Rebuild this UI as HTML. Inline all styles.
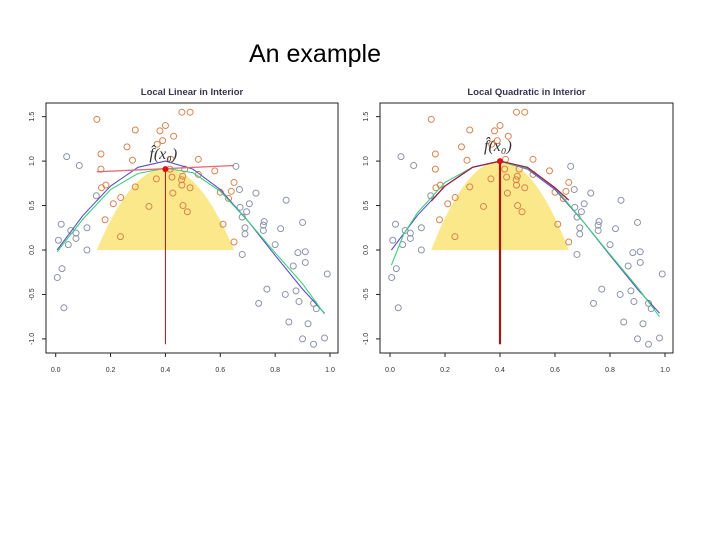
<!DOCTYPE html>
<html><head><meta charset="utf-8">
<style>
body{margin:0;background:#fff;width:720px;height:540px;overflow:hidden;font-family:"Liberation Sans",sans-serif}
#title{position:absolute;left:0;top:40px;width:630px;text-align:center;font-size:25px;color:#000}
svg{position:absolute;left:0;top:0}
</style></head>
<body>
<div id="title">An example</div>
<svg id="chart" width="720" height="540"></svg>
<script>
const orangeX=[0.15,0.46,0.49,0.29,0.38,0.40,0.43,0.37,0.39,0.26,0.165,0.28,0.52,0.42,0.165,0.417,0.47,0.58,0.367,0.424,0.463,0.459,0.46,0.52,0.49,0.29,0.167,0.183,0.65,0.64,0.60,0.237,0.427,0.21,0.34,0.464,0.48,0.18,0.61,0.236,0.65,0.63];
const orangeY=[1.47,1.55,1.55,1.35,1.34,1.40,1.28,1.19,1.23,1.16,1.08,1.01,1.02,1.02,0.91,0.91,0.91,0.89,0.80,0.82,0.83,0.79,0.73,0.85,0.70,0.71,0.70,0.73,0.76,0.66,0.65,0.59,0.64,0.52,0.49,0.50,0.43,0.34,0.29,0.15,0.09,0.58];
const grayX=[0.04,0.086,0.01,0.02,0.055,0.046,0.074,0.074,0.114,0.114,0.023,0.006,0.03,0.148,0.657,0.67,0.672,0.696,0.706,0.68,0.69,0.69,0.73,0.757,0.76,0.757,0.82,0.80,0.84,0.90,0.883,0.91,0.91,0.866,0.99,0.77,0.74,0.837,0.876,0.887,0.94,0.95,0.85,0.92,0.90,0.94,0.98,0.68];
const grayY=[1.05,0.95,0.11,0.29,0.22,0.06,0.19,0.13,0.25,0.0,-0.21,-0.31,-0.65,0.61,0.94,0.68,0.48,0.43,0.52,0.37,0.25,0.18,0.64,0.28,0.32,0.22,0.24,0.06,0.56,0.31,-0.03,-0.02,-0.14,-0.18,-0.27,-0.44,-0.60,-0.50,-0.46,-0.58,-0.60,-0.66,-0.81,-0.83,-1.0,-1.06,-0.99,-0.05];
const curveX=[0.005,0.1,0.2,0.3,0.4,0.5,0.6,0.7,0.8,0.9,0.98];
const blueY=[0.0,0.39,0.72,0.93,1.0,0.91,0.68,0.33,-0.06,-0.44,-0.71];
const greenLeftY=[-0.02,0.35,0.68,0.86,0.92,0.87,0.66,0.33,-0.03,-0.38,-0.72];
const greenRightX=[0.005,0.05,0.1,0.2,0.3,0.4,0.5,0.6,0.7,0.8,0.9,0.98];
const greenRightY=[-0.17,0.18,0.42,0.76,0.93,0.995,0.92,0.7,0.33,-0.05,-0.42,-0.75];
const linFitX=[0.15,0.65];
const linFitY=[0.88,0.95];
const quadFitX=[0.15,0.2,0.3,0.4,0.5,0.6,0.65];
const quadFitY=[0.55,0.72,0.93,1.0,0.93,0.7,0.56];
const xTicks=[0,0.2,0.4,0.6,0.8,1.0];
const xTickLabels=["0.0","0.2","0.4","0.6","0.8","1.0"];
const yTicks=[-1.0,-0.5,0.0,0.5,1.0,1.5];
const yTickLabels=["-1.0","-0.5","0.0","0.5","1.0","1.5"];
const x0=0.4, kernelHalf=0.25;
const fitLeft=0.91, fitRight=1.0, kernelPeakLeft=0.92, kernelPeakRight=1.0;

const NS="http://www.w3.org/2000/svg";
const svg=document.getElementById('chart');
function el(tag,attrs,parent){const e=document.createElementNS(NS,tag);for(const k in attrs)e.setAttribute(k,attrs[k]);(parent||svg).appendChild(e);return e;}

function panel(p){
  const g=el('g',{});
  
  
  const sx=v=>p.x0+p.xs*v, sy=v=>250-88.9*v;
  const t=el('text',{x:(p.bx1+p.bx2)/2,y:95,'text-anchor':'middle','font-size':'9.5','font-weight':'bold',fill:'#3a3350'},g);
  t.textContent=p.title;
  
  
  // kernel
  let d='';
  for(let i=0;i<=50;i++){const x=x0-kernelHalf+2*kernelHalf*i/50;const u=(x-x0)/kernelHalf;const h=p.kpeak*(1-u*u);d+=(i?'L':'M')+sx(x).toFixed(1)+','+sy(h).toFixed(1);}
  d+='Z';
  const k=el('path',{d:d,fill:'#fbe88a',stroke:'none'},g);
  
  
  // points
  orangeX.forEach((x,i)=>{const c=el('circle',{cx:sx(x),cy:sy(orangeY[i]),r:3,fill:'none',stroke:'#d9834e','stroke-width':1},g);
    
    });
  grayX.forEach((x,i)=>{const c=el('circle',{cx:sx(x),cy:sy(grayY[i]),r:3,fill:'none',stroke:'#8c94a8','stroke-width':1},g);
    
    });
  const line=(xs,ys)=>xs.map((x,i)=>(i?'L':'M')+sx(x).toFixed(1)+','+sy(ys[i]).toFixed(1)).join('');
  const b=el('path',{d:line(curveX,blueY),fill:'none',stroke:'#5a4fc8','stroke-width':1.1},g);
  
  
  const gr=el('path',{d:line(p.gx,p.gy),fill:'none',stroke:'#3fcf7a','stroke-width':1.1},g);
  
  
  const lf=el('path',{d:line(p.fx,p.fy),fill:'none',stroke:p.fcol,'stroke-width':1.3},g);
  
  
  const v=el('line',{x1:sx(x0),x2:sx(x0),y1:sy(-1.06),y2:sy(p.fit),stroke:'#a01818','stroke-width':p.vw},g);
  
  
  const dot=el('circle',{cx:sx(x0),cy:sy(p.fit),r:3,fill:'#e01010'},g);
  
  
  const lab=el('text',{x:sx(x0)-16,y:sy(p.fit)-10,'font-size':'16','font-family':'Liberation Serif, serif','font-style':'italic',fill:'#333'},g);
  lab.textContent='f\u0302(x\u2080)';
  
  
  // box
  const r=el('rect',{x:p.bx1,y:103,width:p.bx2-p.bx1,height:250,fill:'none',stroke:'#222','stroke-width':1},g);
  
  
  xTicks.forEach((v,i)=>{el('line',{x1:sx(v),x2:sx(v),y1:353,y2:357,stroke:'#222'},g);
    const tt=el('text',{x:sx(v),y:372,'text-anchor':'middle','font-size':'7',fill:'#333'},g);tt.textContent=xTickLabels[i];
    
    });
  yTicks.forEach((v,i)=>{el('line',{x1:p.bx1,x2:p.bx1-4,y1:sy(v),y2:sy(v),stroke:'#222'},g);
    const tx=p.bx1-12, ty=sy(v);
    const tt=el('text',{x:tx,y:ty,'text-anchor':'middle','font-size':'7',fill:'#333',transform:'rotate(-90 '+tx+' '+ty+')'},g);tt.textContent=yTickLabels[i];
    
    });
}
panel({name:'local-linear-panel',title:'Local Linear in Interior',x0:55.7,xs:274.3,bx1:46,bx2:338,gx:curveX,gy:greenLeftY,fx:linFitX,fy:linFitY,fcol:'#e06a7a',fit:fitLeft,kpeak:kernelPeakLeft,vw:1});
panel({name:'local-quadratic-panel',title:'Local Quadratic in Interior',x0:390,xs:275,bx1:380,bx2:673,gx:greenRightX,gy:greenRightY,fx:quadFitX,fy:quadFitY,fcol:'#a0204a',fit:fitRight,kpeak:kernelPeakRight,vw:2.2});
</script>
</body></html>
